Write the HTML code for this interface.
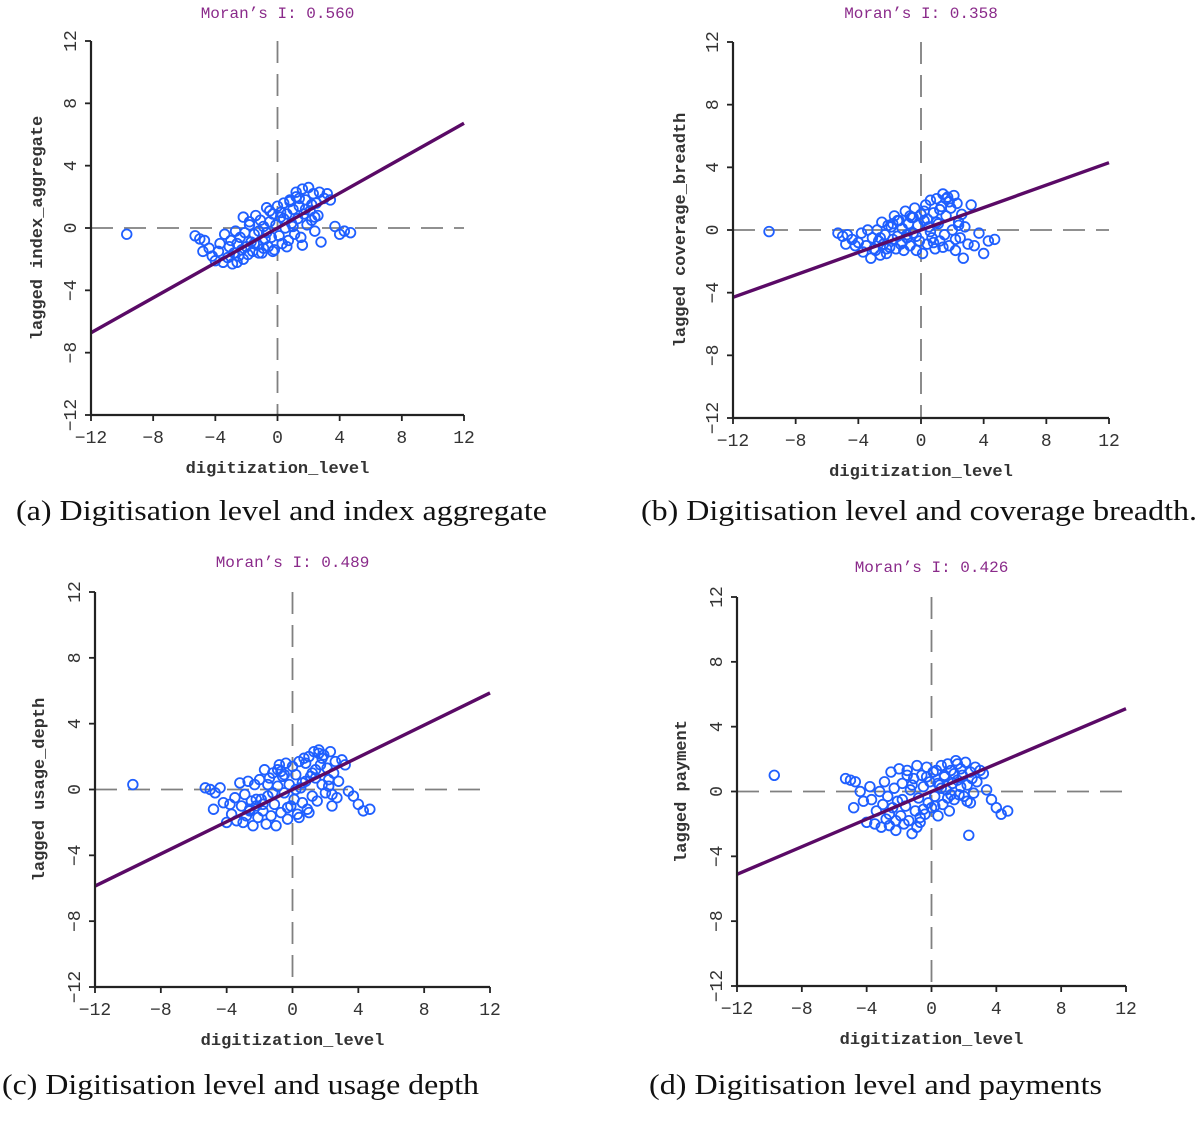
<!DOCTYPE html>
<html><head><meta charset="utf-8"><style>
html,body{margin:0;padding:0;background:#fff;width:1200px;height:1130px;overflow:hidden}
svg{display:block}
.cap{font-family:"Liberation Serif",serif;font-size:29px;fill:#111}
.tick{font-family:"Liberation Mono",monospace;font-size:18px;fill:#333}
.axl{font-family:"Liberation Mono",monospace;font-size:17px;fill:#333;font-weight:bold}
.ttl{font-family:"Liberation Mono",monospace;font-size:16px;fill:#8a2a8a}
</style></head><body>
<svg id="fig" width="1200" height="1130" viewBox="0 0 1200 1130">
<text class="cap" x="16" y="520" textLength="531" lengthAdjust="spacingAndGlyphs">(a) Digitisation level and index aggregate</text>
<text class="cap" x="641" y="520" textLength="556" lengthAdjust="spacingAndGlyphs">(b) Digitisation level and coverage breadth.</text>
<text class="cap" x="2" y="1094" textLength="477" lengthAdjust="spacingAndGlyphs">(c) Digitisation level and usage depth</text>
<text class="cap" x="649" y="1094" textLength="453" lengthAdjust="spacingAndGlyphs">(d) Digitisation level and payments</text>
</svg>
<script>
const tickValues = [-12,-8,-4,0,4,8,12];
const moranI = [0.560, 0.358, 0.489, 0.426];
const moranLabels = ["Moran’s I: 0.560","Moran’s I: 0.358","Moran’s I: 0.489","Moran’s I: 0.426"];
const yTitles = ["lagged index_aggregate","lagged coverage_breadth","lagged usage_depth","lagged payment"];
const digitX = [-9.7,-5.3,-5.0,-4.8,-4.7,-4.4,-4.2,-4.0,-3.8,-3.7,-3.5,-3.4,-3.2,-3.1,-3.0,-2.9,-2.8,-2.7,-2.6,-2.5,-2.4,-2.3,-2.2,-2.1,-2.0,-1.9,-1.8,-1.7,-1.6,-1.5,-1.4,-1.3,-1.2,-1.1,-1.0,-0.9,-0.8,-0.7,-0.6,-0.5,-0.4,-0.3,-0.2,-0.1,0.0,0.1,0.2,0.3,0.4,0.5,0.6,0.7,0.8,0.9,1.0,1.1,1.2,1.3,1.4,1.5,1.6,1.7,1.8,1.9,2.0,2.1,2.2,2.3,2.4,2.5,2.6,2.7,2.8,3.0,3.2,3.4,3.7,4.0,4.3,4.7,
-2.6,-1.8,-1.2,-0.7,-0.3,0.2,0.6,1.0,1.4,1.8,2.2,-2.2,-1.5,-0.9,0.4,1.2,1.6,2.4,-0.5,0.8];
const lagA = [-0.4,-0.5,-0.7,-1.5,-0.8,-1.3,-1.8,-2.1,-1.5,-1.0,-2.2,-0.4,-1.9,-1.2,-0.8,-2.3,-1.6,-0.2,-1.0,-1.8,-0.6,-1.4,-2.0,-0.3,-1.2,-1.7,0.2,-0.9,-1.5,-0.4,0.8,-1.1,-0.2,0.5,-1.6,0.1,-0.7,1.3,-1.2,0.4,-0.6,0.9,-1.4,0.2,1.4,-0.5,0.7,-1.0,1.6,0.0,0.9,-0.8,1.7,0.3,1.2,-0.4,2.0,0.6,1.4,-0.6,2.5,0.9,1.8,0.2,2.6,1.1,0.5,2.2,-0.2,1.6,0.8,2.3,-0.9,1.9,2.2,1.8,0.1,-0.4,-0.2,-0.3,
-2.2,0.4,-1.6,-0.3,-1.5,1.0,-1.2,0.1,1.9,1.2,1.5,0.7,-1.0,-1.3,0.6,2.3,-1.1,0.7,1.1,1.8];
const lagB = [-0.1,-0.2,-0.4,-0.9,-0.3,-0.6,-1.0,-0.8,-0.2,-1.4,-1.0,0.0,-1.8,-0.5,-1.2,-1.3,0.0,-0.7,-1.6,0.5,-0.9,-0.3,-1.5,0.3,-1.1,0.2,-0.6,0.9,-1.2,-0.4,0.6,-0.9,0.1,-1.3,1.2,-0.5,0.4,-1.0,0.8,-0.2,1.4,-1.3,0.3,-0.7,1.0,-1.5,0.6,1.6,-0.9,0.2,1.9,-0.5,1.1,-1.2,2.0,0.4,-0.7,1.5,2.3,-0.3,0.9,2.1,-1.0,1.4,0.0,2.2,-1.3,1.7,0.5,-0.5,1.0,-1.8,0.2,-0.9,1.6,-1.0,-0.2,-1.5,-0.7,-0.6,
-0.5,0.4,-0.8,0.9,-0.4,1.2,-0.1,0.5,-1.1,1.8,-0.6,-1.2,0.6,-0.3,0.7,1.3,2.0,0.3,0.8,-0.8];
const lagC = [0.3,0.1,0.0,-1.2,-0.2,0.1,-0.8,-2.0,-0.9,-1.5,-0.5,-1.9,0.4,-1.0,-2.0,-0.3,-1.6,0.5,-1.2,-0.7,-2.2,0.3,-1.0,-1.7,0.6,-0.6,-1.3,1.2,-2.1,-0.4,0.7,-1.6,1.0,-0.9,-2.2,0.2,1.5,-1.4,0.8,-0.2,1.6,-1.8,0.3,-1.0,1.4,-0.6,0.9,-1.5,1.7,0.1,-0.8,1.9,0.5,-1.2,2.0,0.8,-0.4,2.3,1.2,-0.7,2.4,1.5,0.3,2.1,-0.2,1.3,0.6,2.3,-1.0,1.0,1.7,-0.5,0.5,1.8,1.5,-0.1,-0.4,-0.9,-1.3,-1.2,
-1.3,-0.9,-0.2,1.1,-1.1,0.0,0.4,-1.4,0.7,1.9,0.2,-0.6,0.3,1.2,-1.7,1.0,2.2,-0.3,0.9,1.6];
const lagD = [1.0,0.8,0.7,-1.0,0.6,0.0,-0.6,-1.9,0.3,-0.5,-2.0,-1.2,0.0,-2.2,-0.8,0.6,-1.7,-0.3,-2.1,1.2,-1.0,0.2,-2.4,-0.6,1.4,-1.5,0.5,-2.0,-0.9,1.3,-1.8,0.1,-2.6,0.8,-1.2,1.6,-0.4,-1.9,1.0,0.3,-1.4,1.5,-0.7,0.6,-1.0,1.2,-0.3,1.3,-1.5,0.4,1.6,-0.8,1.0,0.1,1.7,-1.2,1.3,0.5,-0.5,1.9,0.7,-0.2,1.4,1.0,-0.3,1.8,0.4,-2.7,1.2,0.8,-0.1,1.5,0.6,1.3,1.1,0.1,-0.5,-1.0,-1.4,-1.2,
-1.4,-0.5,0.4,-1.6,0.9,-0.9,0.2,-0.4,1.1,0.3,-0.6,-1.8,1.0,-2.2,0.5,-0.2,1.7,-0.7,-1.1,0.9];
const lagSeries = [lagA, lagB, lagC, lagD];

const panels = [
 {id:'a', x0:91, x1:464, y0:41, y1:415, ty:18, yl:42},
 {id:'b', x0:733, x1:1109, y0:42, y1:418, ty:18, yl:685},
 {id:'c', x0:95, x1:490, y0:592, y1:987, ty:567, yl:44},
 {id:'d', x0:737, x1:1126, y0:597, y1:986, ty:572, yl:686}
];
const NS='http://www.w3.org/2000/svg';
const svg=document.getElementById('fig');
function mk(tag, attrs, parent){const e=document.createElementNS(NS,tag);for(const k in attrs)e.setAttribute(k,attrs[k]);(parent||svg).appendChild(e);return e;}

panels.forEach((p,pi)=>{
  const sx=v=>p.x0+(v+12)/24*(p.x1-p.x0);
  const sy=v=>p.y1-(v+12)/24*(p.y1-p.y0);
  const g=mk('g',{});
  
  
  const t=mk('text',{x:(p.x0+p.x1)/2,y:p.ty,'text-anchor':'middle',class:'ttl'},g);
  t.textContent=moranLabels[pi];
  
  
  const dv=mk('line',{x1:sx(0),x2:sx(0),y1:p.y0,y2:p.y1,stroke:'#808080','stroke-width':1.8,'stroke-dasharray':'22 11'},g);
  
  
  const dh=mk('line',{x1:p.x0,x2:p.x1,y1:sy(0),y2:sy(0),stroke:'#808080','stroke-width':1.8,'stroke-dasharray':'22 11'},g);
  
  
  const lag=lagSeries[pi];
  digitX.forEach((xv,i)=>{
    const c=mk('circle',{cx:sx(xv),cy:sy(lag[i]),r:4.8,fill:'none',stroke:'#1f5fff','stroke-width':1.8},g);
    
    
  });
  const rl=mk('line',{x1:sx(-12),y1:sy(-12*moranI[pi]),x2:sx(12),y2:sy(12*moranI[pi]),stroke:'#5a0a66','stroke-width':3.4},g);
  
  
  const ax=mk('path',{d:`M${p.x0} ${p.y0}V${p.y1}H${p.x1}`,fill:'none',stroke:'#222','stroke-width':2.2},g);
  
  
  tickValues.forEach(v=>{
    mk('line',{x1:sx(v),x2:sx(v),y1:p.y1,y2:p.y1+6,stroke:'#222','stroke-width':1.8},g);
    mk('line',{x1:p.x0-6,x2:p.x0,y1:sy(v),y2:sy(v),stroke:'#222','stroke-width':1.8},g);
    const xt=mk('text',{x:sx(v),y:p.y1+28,'text-anchor':'middle',class:'tick'},g);
    xt.textContent=v<0?'−'+Math.abs(v):String(v);
    
    
    const yt=mk('text',{x:0,y:0,'text-anchor':'middle',class:'tick',transform:`translate(${p.x0-15},${sy(v)}) rotate(-90)`},g);
    yt.textContent=v<0?'−'+Math.abs(v):String(v);
    
    
  });
  const xl=mk('text',{x:(p.x0+p.x1)/2,y:p.y1+58,'text-anchor':'middle',class:'axl'},g);
  xl.textContent='digitization_level';
  
  
  const yl=mk('text',{x:0,y:0,'text-anchor':'middle',class:'axl',transform:`translate(${p.yl},${(p.y0+p.y1)/2}) rotate(-90)`},g);
  yl.textContent=yTitles[pi];
  
  
});
</script>
</body></html>
